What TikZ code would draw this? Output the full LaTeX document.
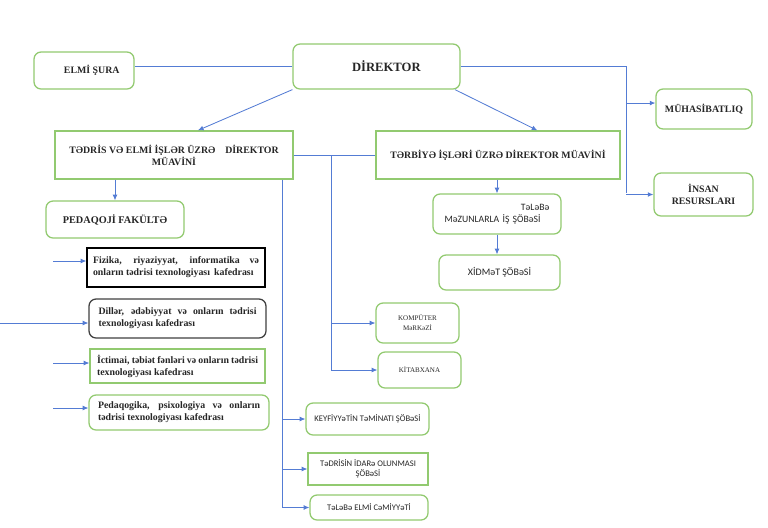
\documentclass[tikz,border=0pt]{standalone}
\usepackage{fontspec}
\setmainfont{Liberation Serif}
\newfontfamily\unitsans{Carlito}
\usetikzlibrary{arrows.meta}

\definecolor{boxgreen}{RGB}{146,202,112}
\definecolor{linkblue}{RGB}{84,124,212}

\begin{document}
\begin{tikzpicture}[
        x=0.025cm, y=-0.025cm,
        sz/.style 2 args={minimum width=#1*0.025cm, minimum height=#2*0.025cm},
        box/.style={draw=boxgreen, line width=0.9pt, fill=white, rounded corners=5pt, inner sep=2pt, align=center, text=black!85, font=\bfseries\fontsize{7}{8.5}\selectfont},
        sqbox/.style={box, rounded corners=0pt},
        unit/.style={box, font=\unitsans\fontsize{6.1}{7.4}\selectfont},
        dept/.style={box, align=justify, text width=#1*0.025cm},
        line/.style={linkblue, line width=0.6pt},
        arrow/.style={line, -{Latex[length=4pt, width=3.5pt]}}
    ]
        \useasboundingbox (0,0) rectangle (768,527);

        % Top row
        \node[box, sz={100}{37}] (sura) at (84,70.5) {\hspace*{11pt}ELMİ ŞURA};
        \node[box, sz={167}{45}, font=\bfseries\fontsize{9}{11}\selectfont] (dir) at (376.5,66.5) {\hspace*{14pt}DİREKTOR};
        \node[box, sz={96}{40}] (muh) at (704,109) {MÜHASİBATLIQ};
        \node[box, sz={99}{43}] (insan) at (703.5,194.5) {İNSAN\\RESURSLARI};

        % Deputies
        \node[sqbox, sz={238}{48}] (tedris) at (174,155) {TƏDRİS VƏ ELMİ İŞLƏR ÜZRƏ\quad DİREKTOR\\MÜAVİNİ};
        \node[sqbox, sz={244}{48}] (terbiye) at (498,155) {TƏRBİYƏ İŞLƏRİ ÜZRƏ DİREKTOR MÜAVİNİ};

        % Left column: faculty and chairs
        \node[box, sz={138}{37}, font=\bfseries\fontsize{7.3}{8.5}\selectfont] (pedaq) at (115,219.5) {PEDAQOJİ FAKÜLTƏ};
        \node[dept=166, sz={178}{39}, draw=black, rounded corners=0pt] (fizika) at (176,267.5) {Fizika, riyaziyyat, informatika və\linebreak onların tədrisi texnologiyası\, kafedrası};
        \node[dept=158, sz={177}{39}, draw=black!75] (diller) at (177.5,318.5) {Dillər, ədəbiyyat və onların tədrisi\linebreak texnologiyası kafedrası};
        \node[dept=161, sz={175}{34}, rounded corners=0pt] (ictimai) at (177.5,366) {İctimai, təbiət fənləri və onların tədrisi\linebreak texnologiyası kafedrası};
        \node[dept=162, sz={180}{35}] (pedkaf) at (179,412.5) {Pedaqogika, psixologiya və onların\linebreak tədrisi texnologiyası kafedrası};

        % Right column: units
        \node[unit, sz={128}{40}, text width=105*0.025cm, align=left, font=\unitsans\fontsize{6.9}{8.2}\selectfont] (telebe) at (497,214) {\hfill TəLəBə\\MəZUNLARLA İŞ ŞÖBəSİ};
        \node[unit, sz={121}{35}, font=\unitsans\fontsize{7.1}{8.2}\selectfont] (xidmet) at (499.5,272.5) {XİDMəT ŞÖBəSİ};
        \node[box, sz={83}{40}, font=\fontsize{5}{7}\selectfont] (komp) at (417.5,323) {KOMPÜTER\\MəRKəZİ};
        \node[box, sz={83}{36}, font=\fontsize{5}{7}\selectfont] (kitab) at (419.5,370) {KİTABXANA};
        \node[unit, sz={123}{32}] (keyf) at (367.5,419) {KEYFİYYəTİN TəMİNATI ŞÖBəSİ};
        \node[unit, sz={120}{32}, rounded corners=0pt] (idare) at (368,469) {TəDRİSİN İDARə OLUNMASI\\ŞÖBəSİ};
        \node[unit, sz={118}{25}] (elmi) at (369,507.5) {TəLəBə ELMİ CəMİYYəTİ};

        % Director links
        \draw[line] (dir.west) -- (dir.west -| sura.east);
        \draw[arrow] (dir.south west) -- ([xshift=17pt]tedris.north);
        \draw[arrow] ([xshift=-4pt]dir.south east) -- ([xshift=28pt]terbiye.north);
        \coordinate (rbus) at (626,193);
        \draw[line] (dir.east) -| (rbus);
        \draw[arrow] (rbus |- muh.173) -- (muh.173);
        \draw[arrow] (rbus |- insan.west) -- (insan.west);

        % Deputy links
        \draw[line] (tedris.east) -- (terbiye.west);
        \draw[arrow] (tedris.south -| pedaq.north) -- (pedaq.north);
        \draw[arrow] (terbiye.south -| telebe.north) -- (telebe.north);
        \draw[arrow] (telebe.south) -- (telebe.south |- xidmet.north);

        % Middle bus
        \coordinate (mbus) at (331,370);
        \draw[line] (mbus |- tedris.east) -- (mbus);
        \draw[arrow] (mbus |- komp.west) -- (komp.west);
        \draw[arrow] (mbus |- kitab.west) -- (kitab.west);

        % Lower bus
        \coordinate (lbus) at (282,508);
        \draw[line] (lbus |- tedris.south) -- (lbus);
        \draw[arrow] (lbus |- keyf.west) -- (keyf.west);
        \draw[arrow] (lbus |- idare.west) -- (idare.west);
        \draw[arrow] (lbus |- elmi.west) -- (elmi.west);

        % Chair arrows
        \coordinate (fizin) at (53,261);
        \coordinate (dilin) at (0,323);
        \coordinate (ictin) at (53,363);
        \coordinate (pedin) at (53,408);
        \draw[arrow] (fizin) -- (fizin -| fizika.west);
        \draw[arrow] (dilin) -- (dilin -| diller.west);
        \draw[arrow] (ictin) -- (ictin -| ictimai.west);
        \draw[arrow] (pedin) -- (pedin -| pedkaf.west);

    \end{tikzpicture}
\end{document}
